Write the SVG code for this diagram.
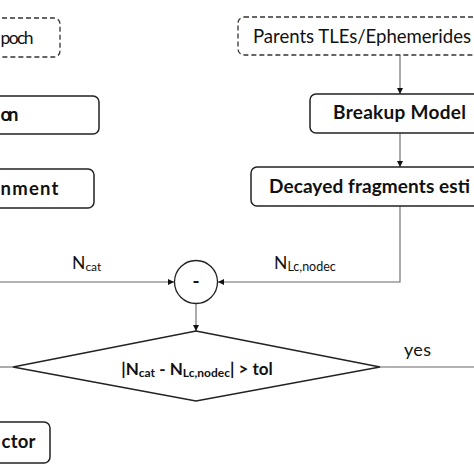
<svg xmlns="http://www.w3.org/2000/svg" width="474" height="474" viewBox="0 0 474 474">
<style>
.box{fill:#fff;stroke:#222;stroke-width:1.5}
.dash{fill:#fff;stroke:#333;stroke-width:1.3;stroke-dasharray:5 3}
.conn{fill:none;stroke:#666;stroke-width:1.1}
.t{font-family:Lato,"Open Sans","Liberation Sans",sans-serif;fill:#111}
.b{font-weight:bold}
</style>
<defs>
<marker id="ah" viewBox="0 0 10 10" refX="10" refY="5" markerWidth="6" markerHeight="6" markerUnits="userSpaceOnUse" orient="auto">
<path d="M0,0 L10,5 L0,10 z" fill="#111"/>
</marker>
</defs>
<rect width="474" height="474" fill="#fff"/>
<g id="connectors">
<line class="conn" x1="400" y1="55" x2="400" y2="94" marker-end="url(#ah)"/>
<line class="conn" x1="400" y1="133" x2="400" y2="167" marker-end="url(#ah)"/>
<polyline class="conn" points="400,206 400,282 218,282" marker-end="url(#ah)"/>
<line class="conn" x1="0" y1="282" x2="174" y2="282" marker-end="url(#ah)"/>
<line class="conn" x1="196" y1="303" x2="196" y2="331" marker-end="url(#ah)"/>
<line class="conn" x1="0" y1="367" x2="13" y2="367"/>
<line class="conn" x1="380" y1="367" x2="474" y2="367"/>
<text class="t" x="72" y="269" font-size="17.5">N<tspan font-size="12" dy="2">cat</tspan></text>
<text class="t" x="274" y="269" font-size="17.5">N<tspan font-size="12.5" dy="2">Lc,nodec</tspan></text>
<text class="t" x="404" y="356" font-size="18" textLength="27">yes</text>
</g>
<g id="epoch">
<rect class="dash" x="-60" y="18" width="120" height="39" rx="6"/>
<text class="t" x="0.5" y="44" font-size="17.5" textLength="33">poch</text>
</g>
<g id="node-on">
<rect class="box" x="-60" y="96" width="159" height="38" rx="6"/>
<text class="t b" x="0.5" y="121" font-size="18.5" textLength="18">on</text>
</g>
<g id="node-nment">
<rect class="box" x="-60" y="169" width="154" height="39" rx="6"/>
<text class="t b" x="0.5" y="195" font-size="18.5" textLength="58">nment</text>
</g>
<g id="parents">
<rect class="dash" x="238" y="17" width="324" height="38" rx="6"/>
<text class="t" x="253" y="43" font-size="18.6" textLength="218">Parents TLEs/Ephemerides</text>
</g>
<g id="breakup">
<rect class="box" x="310" y="94" width="180" height="39" rx="6"/>
<text class="t b" x="333" y="119" font-size="19" textLength="133">Breakup Model</text>
</g>
<g id="decayed">
<rect class="box" x="251" y="167" width="298" height="39" rx="6"/>
<text class="t b" x="269" y="193" font-size="19" textLength="201">Decayed fragments esti</text>
</g>
<g id="minus">
<circle cx="196" cy="282" r="21.5" fill="#fff" stroke="#222" stroke-width="1.3"/>
<text class="t b" x="196" y="288" font-size="19" text-anchor="middle">-</text>
</g>
<g id="check">
<polygon points="196,331 380,367 196,401 13,367" fill="#fff" stroke="#222" stroke-width="1.5"/>
<text class="t b" x="197" y="375" font-size="17" text-anchor="middle">|N<tspan font-size="12" dy="2">cat</tspan><tspan dy="-2"> - N</tspan><tspan font-size="12" dy="2">Lc,nodec</tspan><tspan dy="-2">| &gt; tol</tspan></text>
</g>
<g id="node-ctor">
<rect class="box" x="-60" y="422" width="110" height="41" rx="6"/>
<text class="t b" x="1.5" y="448" font-size="18.5" textLength="34">ctor</text>
</g>
</svg>
